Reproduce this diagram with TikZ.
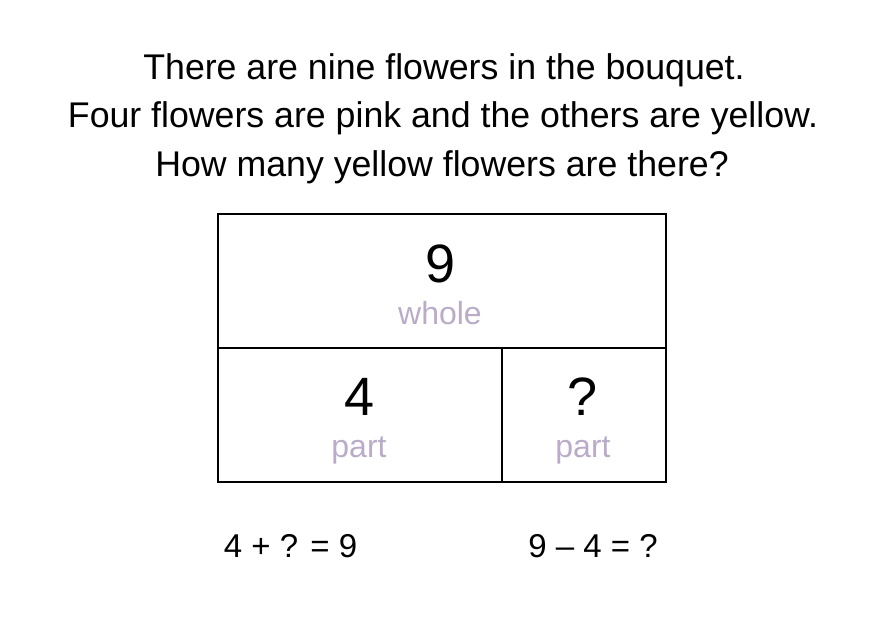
\documentclass[tikz,border=0pt]{standalone}
\usepackage{fontspec}
\setmainfont{Liberation Sans}
\definecolor{labelpurple}{RGB}{186,172,200}
\begin{document}
\begin{tikzpicture}[x=1pt,y=-1pt,
  titletext/.style={anchor=base,inner sep=0pt,font=\fontsize{35.7}{42}\selectfont},
  bignum/.style={anchor=base,inner sep=0pt,font=\fontsize{54}{60}\selectfont},
  celllabel/.style={anchor=base,inner sep=0pt,text=labelpurple,font=\fontsize{32}{38}\selectfont},
  eqtext/.style={anchor=base,inner sep=0pt,font=\fontsize{33}{40}\selectfont},
  boxline/.style={draw=black,line width=1.3pt}]
\useasboundingbox (0,0) rectangle (888,619);
\node[titletext] (t1) at (444,79) {There are nine flowers in the bouquet.};
\node[titletext] (t2) at (443,127) {Four flowers are pink and the others are yellow.};
\node[titletext] (t3) at (442,176) {How many yellow flowers are there?};
\draw[boxline] (218,214) rectangle (666,482);
\draw[boxline] (218,348) -- (666,348);
\draw[boxline] (502,348) -- (502,482);
\node[bignum] (n9) at (441,282) {9};
\node[celllabel] (lw) at (440,324) {whole};
\node[bignum] (n4) at (360,415) {4};
\node[celllabel] (lp1) at (359,457) {part};
\node[bignum] (nq) at (583,415) {?};
\node[celllabel] (lp2) at (583,457) {part};
\node[eqtext] (e1) at (290.5,557) {4 + ? = 9};
\node[eqtext] (e2) at (593,557) {9 – 4 = ?};
\end{tikzpicture}
\end{document}
